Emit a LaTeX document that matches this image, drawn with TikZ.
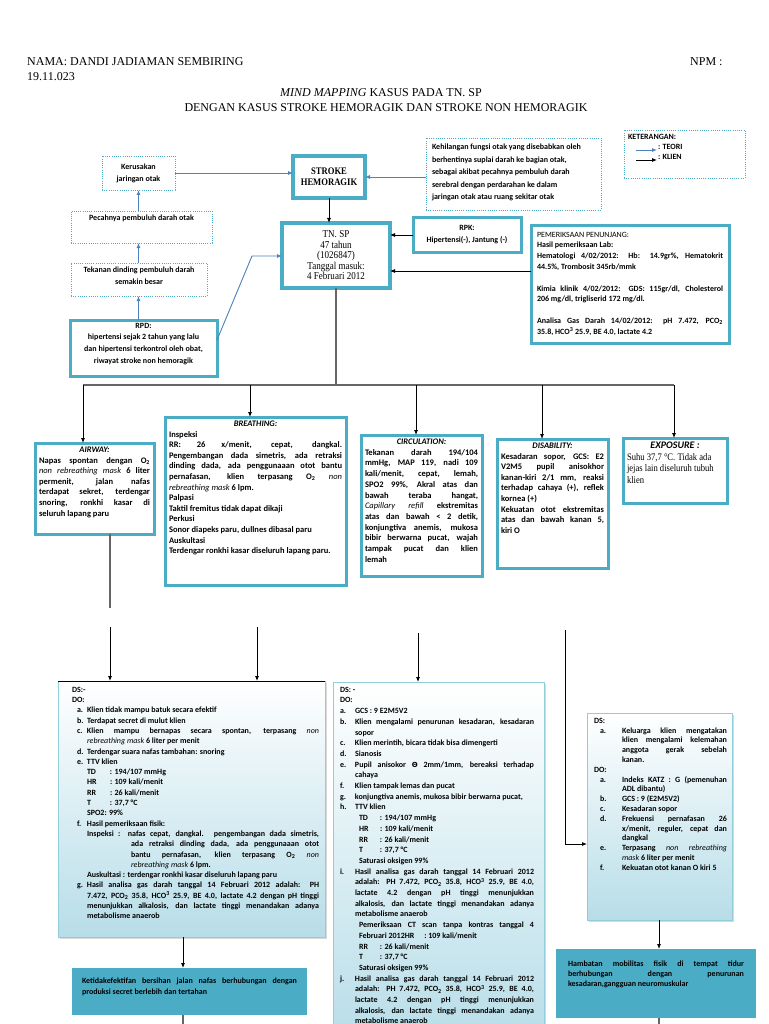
\documentclass[tikz,border=0pt]{standalone}
\usepackage{fontspec}
\setmainfont{Carlito}
\newfontfamily\tnr{Liberation Serif}
\newfontfamily\tnrc[FakeStretch=0.86]{Liberation Serif}
\newfontfamily\dejavu{DejaVu Sans}
\usetikzlibrary{arrows.meta,shadows}
\definecolor{aquaA}{HTML}{4BACC6}
\definecolor{teoriC}{HTML}{4F81BD}
\definecolor{dsBot}{HTML}{B7DDE8}
\definecolor{dsEdge}{HTML}{92CDDC}
\newdimen\itA \newdimen\itB \newdimen\itC \newdimen\itD
\newcommand{\bodyset}{\fontsize{8}{10}\selectfont\bfseries\hyphenpenalty=10000\exhyphenpenalty=10000\tolerance=9999\emergencystretch=2em\parindent=0pt}
\newcommand{\ital}[1]{{\mdseries\itshape #1}}
\newcommand{\lit}[2]{\par\noindent\hangindent=\itB\hangafter=1\hbox to\itB{\hspace*{\itA}#1\hfil}#2}
\newcommand{\sbl}[2]{\par\noindent\hspace*{\itC}\hbox to\itD{#1\hfil}#2}
\newcommand{\mybox}[9]{\node[#2,anchor=north west,inner sep=#7pt,outer sep=0pt] (#1) at (#3,#4) {\begin{minipage}[t][\dimexpr #6pt-#4pt-#7pt-#7pt\relax][#8]{\dimexpr #5pt-#3pt-#7pt-#7pt\relax}\bodyset #9\end{minipage}};}
\tikzset{
 thickbox/.style={draw=aquaA,line width=4pt,fill=white},
 solidbox/.style={draw=aquaA,line width=3pt,fill=white},
 dotbox/.style={draw=aquaA,line width=0.9pt,dash pattern=on 1pt off 1.2pt,fill=white},
 dsbox/.style={draw=dsEdge,line width=0.8pt,top color=white,bottom color=dsBot,drop shadow={opacity=0.3,shadow xshift=2pt,shadow yshift=-2pt}},
 dxbox/.style={fill=aquaA},
 teori/.style={draw=teoriC,line width=0.9pt,-{Latex[length=5pt,width=4pt]}},
 klien/.style={draw=black,line width=0.8pt,-{Latex[length=5pt,width=4pt]}},
 plainline/.style={draw=black!60,line width=1.1pt},
 hdr/.style={inner sep=0pt,font=\tnr\fontsize{12}{14}\selectfont},
}
\begin{document}
\begin{tikzpicture}[x=1pt,y=-1pt]
\useasboundingbox (0,0) rectangle (768,1024);
\fill[white] (0,0) rectangle (768,1024);

% header
\node[hdr,anchor=base west] (nama) at (27,66) {NAMA: DANDI JADIAMAN SEMBIRING};
\node[hdr,anchor=base west] (npm) at (690,66) {NPM :};
\node[hdr,anchor=base west] (nim) at (27,81) {19.11.023};
\node[hdr,anchor=base] (judul1) at (381,97) {\textit{MIND MAPPING} KASUS PADA TN. SP};
\node[hdr,anchor=base] (judul2) at (386,112) {DENGAN KASUS STROKE HEMORAGIK DAN STROKE NON HEMORAGIK};

% top boxes
\mybox{kerus}{dotbox}{102}{156}{175}{190}{3}{c}{\centering\fontsize{8}{12}\selectfont Kerusakan\\jaringan otak}
\mybox{pecah}{dotbox}{71}{211}{212}{243}{4}{t}{\centering Pecahnya pembuluh darah otak}
\mybox{tekan}{dotbox}{71}{263}{207}{296}{4}{t}{\centering\fontsize{8}{12}\selectfont Tekanan dinding pembuluh darah\\semakin besar}
\mybox{rpd}{solidbox}{70}{320}{217}{376}{3}{t}{\centering\fontsize{8}{11.7}\selectfont RPD:\\hipertensi sejak 2 tahun yang lalu\\dan hipertensi terkontrol oleh obat,\\riwayat stroke non hemoragik}
\mybox{stroke}{thickbox}{293}{156}{365}{198}{2}{c}{\centering\tnrc\fontsize{10}{11}\selectfont STROKE\\HEMORAGIK}
\mybox{tnsp}{thickbox}{282}{223}{390}{288}{3}{c}{\centering\tnrc\mdseries\fontsize{10.5}{10.5}\selectfont TN. SP\\47 tahun\\(1026847)\\Tanggal masuk:\\4 Februari 2012}
\mybox{desc}{dotbox}{426}{138}{601}{210}{6}{t}{\raggedright\fontsize{8}{12.5}\selectfont Kehilangan fungsi otak yang disebabkan oleh\\berhentinya suplai darah ke bagian otak,\\sebagai akibat pecahnya pembuluh darah\\serebral dengan perdarahan ke dalam\\jaringan otak atau ruang sekitar otak}
\mybox{ket}{dotbox}{624}{130}{745}{178}{4}{t}{KETERANGAN:\par\hspace*{30pt}: TEORI\par\hspace*{30pt}: KLIEN}
\mybox{rpk}{solidbox}{413}{218}{521}{252}{3}{c}{\centering\fontsize{8}{12}\selectfont RPK:\\Hipertensi(-), Jantung (-)}
\mybox{pem}{solidbox}{531}{226}{729}{343}{6}{t}{\fontsize{8}{10.8}\selectfont {\mdseries PEMERIKSAAN PENUNJANG:}\par
Hasil pemeriksaan Lab:\par
Hematologi 4/02/2012: Hb: 14.9gr\%, Hematokrit \linebreak 44.5\%, Trombosit 345rb/mmk\par\mbox{}\par
Kimia klinik 4/02/2012: GDS: 115gr/dl, Cholesterol \linebreak 206 mg/dl, trigliserid 172 mg/dl.\par\mbox{}\par
Analisa Gas Darah 14/02/2012: pH 7.472, PCO\textsubscript{2} \linebreak 35.8, HCO\textsuperscript{3} 25.9, BE 4.0, lactate 4.2}

% legend arrows
\coordinate (lg1a) at (636,150); \coordinate (lg1b) at (657,150);
\coordinate (lg2a) at (636,160); \coordinate (lg2b) at (657,160);
\draw[teori] (lg1a) -- (lg1b);
\draw[klien] (lg2a) -- (lg2b);

% ABCDE boxes
\mybox{airway}{solidbox}{35}{443}{154}{534}{4}{t}{\fontsize{8.5}{10.6}\selectfont {\centering\itshape AIRWAY:\par}
Napas spontan dengan O\textsubscript{2} \linebreak \ital{non rebreathing mask} 6 liter \linebreak permenit, jalan nafas \linebreak terdapat sekret, terdengar \linebreak snoring, ronkhi kasar di \linebreak seluruh lapang paru}
\mybox{breath}{solidbox}{165}{417}{346}{585}{4}{t}{\fontsize{8.5}{10.6}\selectfont {\centering\itshape BREATHING:\par}
Inspeksi\par
RR: 26 x/menit, cepat, dangkal. \linebreak Pengembangan dada simetris, ada retraksi \linebreak dinding dada, ada penggunaaan otot bantu \linebreak pernafasan, klien terpasang O\textsubscript{2} \ital{non} \linebreak \ital{rebreathing mask} 6 lpm.\par
Palpasi\par
Taktil fremitus tidak dapat dikaji\par
Perkusi\par
Sonor diapeks paru, dullnes dibasal paru\par
Auskultasi\par
Terdengar ronkhi kasar diseluruh lapang paru.}
\mybox{circ}{solidbox}{361}{435}{482}{576}{4}{t}{\fontsize{8.5}{10.7}\selectfont {\centering\itshape CIRCULATION:\par}
Tekanan darah 194/104 \linebreak mmHg, MAP 119, nadi 109 \linebreak kali/menit, cepat, lemah, \linebreak SPO2 99\%, Akral atas dan \linebreak bawah teraba hangat, \linebreak \ital{Capillary refill} ekstremitas \linebreak atas dan bawah < 2 detik, \linebreak konjungtiva anemis, mukosa \linebreak bibir berwarna pucat, wajah \linebreak tampak pucat dan klien \linebreak lemah}
\mybox{disab}{solidbox}{497}{439}{608}{568}{4}{t}{\fontsize{8.5}{10.6}\selectfont {\centering\itshape DISABILITY:\par}
Kesadaran sopor, GCS: E2 \linebreak V2M5 pupil anisokhor \linebreak kanan-kiri 2/1 mm, reaksi \linebreak terhadap cahaya (+), reflek \linebreak kornea (+)\par
Kekuatan otot ekstremitas \linebreak atas dan bawah kanan 5, \linebreak kiri O}
\mybox{expo}{solidbox}{623}{438}{727}{503}{4}{t}{{\centering\fontsize{10}{12}\selectfont\itshape EXPOSURE :\par}
\raggedright\tnrc\mdseries\fontsize{10}{11.5}\selectfont Suhu 37,7 °C. Tidak ada\\jejas lain diseluruh tubuh\\klien}

% DS/DO boxes
\mybox{ds1}{dsbox}{58}{681}{325}{937}{6}{t}{\fontsize{8}{10.3}\selectfont\itA=13pt \itB=23pt \itC=23pt \itD=23pt
\hspace*{8pt}DS:-\par
\hspace*{8pt}DO:
\lit{a.}{Klien tidak mampu batuk secara efektif}
\lit{b.}{Terdapat secret di mulut klien}
\lit{c.}{Klien mampu bernapas secara spontan, terpasang \ital{non} \linebreak \ital{rebreathing mask} 6 liter per menit}
\lit{d.}{Terdengar suara nafas tambahan: snoring}
\lit{e.}{TTV klien}
\sbl{TD}{: 194/107 mmHg}
\sbl{HR}{: 109 kali/menit}
\sbl{RR}{: 26 kali/menit}
\sbl{T}{: 37,7 °C}
\par\noindent\hspace*{\itC}SPO2: 99\%
\lit{f.}{Hasil pemeriksaan fisik:}
\par\noindent\hangindent=67pt\hangafter=1\hspace*{\itC}\hbox to 31pt{Inspeksi\hfil}: nafas cepat, dangkal. pengembangan dada simetris, \linebreak ada retraksi dinding dada, ada penggunaaan otot \linebreak bantu pernafasan, klien terpasang O\textsubscript{2} \ital{non} \linebreak \ital{rebreathing mask} 6 lpm.
\par\noindent\hspace*{\itC}Auskultasi : terdengar ronkhi kasar diseluruh lapang paru
\lit{g.}{Hasil analisa gas darah tanggal 14 Februari 2012 adalah: PH \linebreak 7.472, PCO\textsubscript{2} 35.8, HCO\textsuperscript{3} 25.9, BE 4.0, lactate 4.2 dengan pH tinggi \linebreak menunjukkan alkalosis, dan lactate tinggi menandakan adanya \linebreak metabolisme anaerob}}
\draw[black,line width=1pt] (ds1.north west) -- (ds1.north east);

\mybox{ds2}{dsbox}{333}{682}{544}{1045}{5}{t}{\fontsize{8}{10.7}\selectfont\itA=2pt \itB=17pt \itC=21pt \itD=21pt \rightskip=5pt
\hspace*{2pt}DS: -\par
\hspace*{2pt}DO:
\lit{a.}{GCS : 9 E2M5V2}
\lit{b.}{Klien mengalami penurunan kesadaran, kesadaran \linebreak sopor}
\lit{c.}{Klien merintih, bicara tidak bisa dimengerti}
\lit{d.}{Sianosis}
\lit{e.}{Pupil anisokor {\dejavu\fontsize{7}{10}\selectfont Θ} 2mm/1mm, bereaksi terhadap \linebreak cahaya}
\lit{f.}{Klien tampak lemas dan pucat}
\lit{g.}{konjungtiva anemis, mukosa bibir berwarna pucat,}
\lit{h.}{TTV klien}
\sbl{TD}{: 194/107 mmHg}
\sbl{HR}{: 109 kali/menit}
\sbl{RR}{: 26 kali/menit}
\sbl{T}{: 37,7 °C}
\par\noindent\hspace*{\itC}Saturasi oksigen 99\%
\lit{i.}{Hasil analisa gas darah tanggal 14 Februari 2012 \linebreak adalah: PH 7.472, PCO\textsubscript{2} 35.8, HCO\textsuperscript{3} 25.9, BE 4.0, \linebreak lactate 4.2 dengan pH tinggi menunjukkan \linebreak alkalosis, dan lactate tinggi menandakan adanya \linebreak metabolisme anaerob}
\par\noindent\hangindent=\itC\hangafter=0 Pemeriksaan CT scan tanpa kontras tanggal 4 \linebreak Februari 2012HR\hspace{10pt}: 109 kali/menit
\sbl{RR}{: 26 kali/menit}
\sbl{T}{: 37,7 °C}
\par\noindent\hspace*{\itC}Saturasi oksigen 99\%
\lit{j.}{Hasil analisa gas darah tanggal 14 Februari 2012 \linebreak adalah: PH 7.472, PCO\textsubscript{2} 35.8, HCO\textsuperscript{3} 25.9, BE 4.0, \linebreak lactate 4.2 dengan pH tinggi menunjukkan \linebreak alkalosis, dan lactate tinggi menandakan adanya \linebreak metabolisme anaerob}}

\mybox{ds3}{dsbox}{587}{713}{732}{920}{5}{t}{\fontsize{8}{9.8}\selectfont\itA=8pt \itB=30pt
\hspace*{2pt}DS:
\lit{a.}{Keluarga klien mengatakan \linebreak klien mengalami kelemahan \linebreak anggota gerak sebelah \linebreak kanan.}
\par\noindent\hspace*{2pt}DO:
\lit{a.}{Indeks KATZ : G (pemenuhan \linebreak ADL dibantu)}
\lit{b.}{GCS : 9 (E2M5V2)}
\lit{c.}{Kesadaran sopor}
\lit{d.}{Frekuensi pernafasan 26 \linebreak x/menit, reguler, cepat dan \linebreak dangkal}
\lit{e.}{Terpasang \ital{non rebreathing} \linebreak \ital{mask} 6 liter per menit}
\lit{f.}{Kekuatan otot kanan O kiri 5}}

% diagnosis boxes
\mybox{dx1}{dxbox}{72}{968}{307}{1015}{10}{t}{\fontsize{8}{10.5}\selectfont Ketidakefektifan bersihan jalan nafas berhubungan dengan \linebreak produksi secret berlebih dan tertahan}
\mybox{dx2}{dxbox}{556}{949}{756}{1018}{12}{t}{Hambatan mobilitas fisik di tempat tidur \linebreak berhubungan dengan penurunan \linebreak kesadaran,gangguan neuromuskular}

% connectors: theory chain
\draw[teori] (pecah.north -| kerus.south) -- (kerus.south);
\draw[teori] (tekan.north -| kerus.south) -- (pecah.south -| kerus.south);
\draw[teori] (rpd.north -| kerus.south) -- (tekan.south -| kerus.south);
\draw[teori] (kerus.east) -- (kerus.east -| stroke.west);
\draw[teori] (desc.west |- stroke.east) -- (stroke.east);
\coordinate (rpdbend) at (252,256);
\draw[teori] ([yshift=8pt]rpd.east) -- (rpdbend) -- (rpdbend -| tnsp.west);

% client connectors
\draw[klien] (stroke.south) -- (stroke.south |- tnsp.north);
\draw[klien] (rpk.west) -- (rpk.west -| tnsp.east);
\draw[klien] ([yshift=13.5pt]pem.west) -- ([yshift=13.5pt]pem.west -| tnsp.east);

% bus
\coordinate (busL) at (83,385);
\coordinate (busR) at (674,385);
\draw[plainline] (tnsp.south) -- (tnsp.south |- busL);
\draw[plainline] (busL) -- (busR);
\coordinate (bB) at (250,385);
\coordinate (bC) at (416,385);
\coordinate (bD) at (542,385);
\draw[klien] (busL) -- (busL |- airway.north);
\draw[klien] (bB) -- (bB |- breath.north);
\draw[klien] (bC) -- (bC |- circ.north);
\draw[klien] (bD) -- (bD |- disab.north);
\draw[klien] (busR) -- (busR |- expo.north);

% to DS boxes
\coordinate (a1) at (110,608);
\draw[plainline] (a1 |- airway.south) -- (a1);
\coordinate (a2) at (110,627);
\draw[klien] (a2) -- (a2 |- ds1.north);
\coordinate (b2) at (257,627);
\draw[klien] (b2) -- (b2 |- ds1.north);
\coordinate (c2) at (418,633);
\draw[klien] (c2) -- (c2 |- ds2.north);
\coordinate (d2) at (565,630);
\coordinate (d3) at (565,844);
\draw[klien] (d2) -- (d3) -- (d3 -| ds3.west);

% to diagnoses
\coordinate (e1) at (183,950);
\coordinate (e1b) at (183,1030);
\draw[klien] (e1 |- ds1.south) -- (e1 |- dx1.north);
\draw[plainline] (e1 |- dx1.south) -- (e1b);
\coordinate (f1b) at (659,1030);
\draw[klien] (f1b |- ds3.south) -- (f1b |- dx2.north);
\draw[plainline] (f1b |- dx2.south) -- (f1b);
\end{tikzpicture}
\end{document}
